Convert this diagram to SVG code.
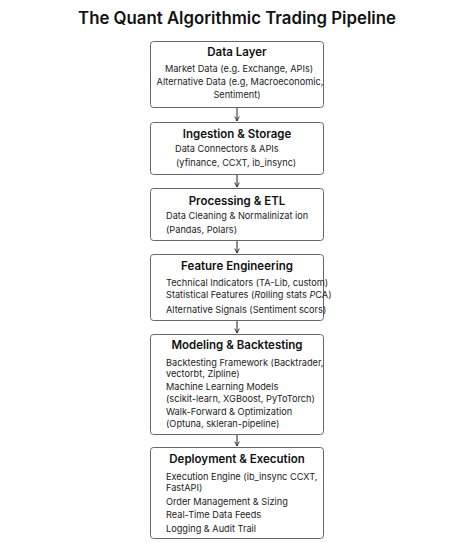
<svg xmlns="http://www.w3.org/2000/svg" width="474" height="543" viewBox="0 0 474 543">
<defs>
<marker id="ah" viewBox="0 0 8 8" refX="7" refY="4" markerWidth="6" markerHeight="6" orient="auto" markerUnits="userSpaceOnUse">
<path d="M1,1 L7,4 L1,7" fill="none" stroke="#222" stroke-width="1.2"/>
</marker>
<style>
.box{fill:#fff;stroke:#666;stroke-width:1}
.t{font-family:Inter,"Liberation Sans",sans-serif;fill:#111}
.title{font-size:16.8px;font-weight:600;text-anchor:middle}
.h{font-size:11.5px;font-weight:600;text-anchor:middle}
.b{font-size:9.2px;fill:#222}
.c{text-anchor:middle}
.ln{stroke:#222;stroke-width:1;fill:none}
</style>
</defs>
<rect width="474" height="543" fill="#fff"/>
<text class="t title" x="237" y="24">The Quant Algorithmic Trading Pipeline</text>
<g id="connectors">
<line class="ln" x1="237" y1="107" x2="237" y2="121" marker-end="url(#ah)"/>
<line class="ln" x1="237" y1="174" x2="237" y2="187" marker-end="url(#ah)"/>
<line class="ln" x1="237" y1="240" x2="237" y2="253" marker-end="url(#ah)"/>
<line class="ln" x1="237" y1="320" x2="237" y2="333" marker-end="url(#ah)"/>
<line class="ln" x1="237" y1="434" x2="237" y2="446" marker-end="url(#ah)"/>
</g>
<g id="data-layer">
<rect class="box" x="150.5" y="41.5" width="173" height="66" rx="3"/>
<text class="t h" x="237" y="56">Data Layer</text>
<text class="t b c" x="239" y="72">Market Data (e.g. Exchange, APIs)</text>
<text class="t b c" x="240" y="85">Alternative Data (e.g, Macroeconomic,</text>
<text class="t b c" x="237" y="98">Sentiment)</text>
</g>
<g id="ingestion">
<rect class="box" x="150.5" y="122.5" width="173" height="52" rx="3"/>
<text class="t h" x="237" y="138">Ingestion &amp; Storage</text>
<text class="t b" x="175" y="152">Data Connectors &amp; APIs</text>
<text class="t b" x="176" y="166">(yfinance, CCXT, ib_insync)</text>
</g>
<g id="processing">
<rect class="box" x="150.5" y="188.5" width="173" height="52" rx="3"/>
<text class="t h" x="237" y="205">Processing &amp; ETL</text>
<text class="t b" x="166" y="219">Data Cleaning &amp; Normalinizat ion</text>
<text class="t b" x="166" y="233">(Pandas, Polars)</text>
</g>
<g id="feature">
<rect class="box" x="150.5" y="254.5" width="173" height="66" rx="3"/>
<text class="t h" x="237" y="270">Feature Engineering</text>
<text class="t b" x="166" y="286">Technical Indicators (TA-Lib, custom)</text>
<text class="t b" x="166" y="298">Statistical Features (<tspan font-style="italic">R</tspan>olling stats <tspan font-style="italic">P</tspan>CA)</text>
<text class="t b" x="166" y="313">Alternative Signals (Sentiment scors)</text>
</g>
<g id="modeling">
<rect class="box" x="150.5" y="334.5" width="173" height="100" rx="3"/>
<text class="t h" x="237" y="349">Modeling &amp; Backtesting</text>
<text class="t b" x="166" y="366">Backtesting Framework (Backtrader,</text>
<text class="t b" x="166" y="377">vectorbt, Zipline)</text>
<text class="t b" x="166" y="390">Machine Learning Models</text>
<text class="t b" x="166" y="402">(scikit-learn, XGBoost, PyToTorch)</text>
<text class="t b" x="166" y="415">Walk-Forward &amp; Optimization</text>
<text class="t b" x="166" y="427">(Optuna, skleran-pipeline)</text>
</g>
<g id="deployment">
<rect class="box" x="150.5" y="447.5" width="173" height="91" rx="3"/>
<text class="t h" x="237" y="463">Deployment &amp; Execution</text>
<text class="t b" x="166" y="480">Execution Engine (ib_insync CCXT,</text>
<text class="t b" x="166" y="491">FastAPI)</text>
<text class="t b" x="166" y="505">Order Management &amp; Sizing</text>
<text class="t b" x="166" y="518">Real-Time Data Feeds</text>
<text class="t b" x="166" y="532">Logging &amp; Audit Trail</text>
</g>
</svg>
